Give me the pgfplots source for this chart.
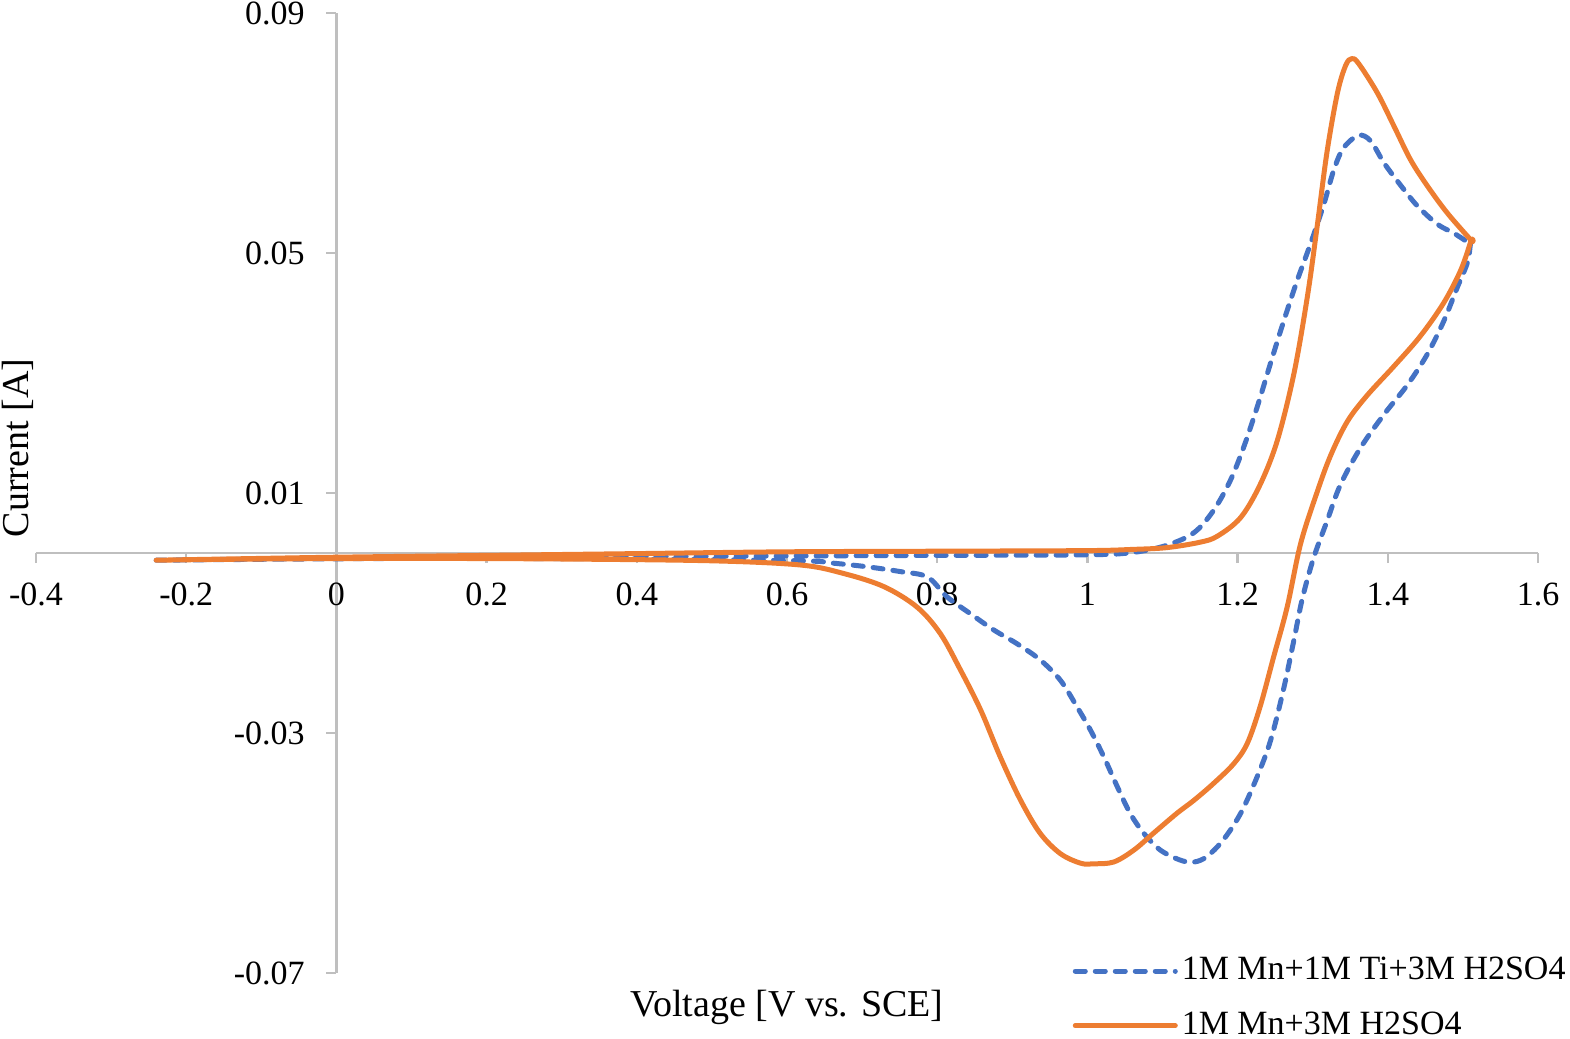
\documentclass[border=0pt]{standalone}
\usepackage{pgfplots}
\pgfplotsset{compat=1.18}
\usepackage{fontspec}
\setmainfont{Liberation Serif}
\definecolor{cblue}{HTML}{4472C4}
\definecolor{corange}{HTML}{ED7D31}
\definecolor{axgray}{HTML}{BFBFBF}
\begin{document}
\fontsize{17}{20}\selectfont
\begin{tikzpicture}
\begin{axis}[
  name=ax,
  scale only axis,
  width=751pt, height=480pt,
  xmin=-0.4, xmax=1.6, ymin=-0.07, ymax=0.09,
  axis lines=middle,
  hide obscured x ticks=false,
  hide obscured y ticks=false,
  axis line style={draw=axgray, line width=1.2pt, -},
  tick style={draw=axgray, line width=1.2pt},
  major tick length=5pt,
  tick align=outside,
  xtick={-0.4,-0.2,0,0.2,0.4,0.6,0.8,1,1.2,1.4,1.6},
  xticklabels={-0.4,-0.2,0,0.2,0.4,0.6,0.8,1,1.2,1.4,1.6},
  ytick={-0.07,-0.03,0.01,0.05,0.09},
  yticklabels={-0.07,-0.03,0.01,0.05,0.09},
  x tick label style={yshift=-4pt},
  y tick label style={xshift=-5pt},
  xlabel={Voltage [V vs. SCE]},
  ylabel={Current [A]},
  label style={font=\fontsize{19}{22}\selectfont},
  xlabel style={at={(axis description cs:0.5,-0.036)}, anchor=center},
  ylabel style={at={(axis description cs:-0.012,0.547)}, anchor=center, rotate=90},
  legend style={at={(axis description cs:0.69,0.021)}, anchor=north west, draw=none, fill=none, inner sep=0pt, row sep=9.5pt},
  legend cell align=left,
  legend image code/.code={\draw[#1, line cap=round] (0pt,0pt) -- (50pt,0pt);},
  clip=false,
]
\addplot[cblue, line width=2.5pt, line cap=round, dash pattern=on 5pt off 5pt, smooth, tension=0.55] coordinates {
(-0.24,-0.0012) (0,-0.0009) (0.4,-0.0006) (0.8,-0.0004) (1.0,-0.0003)
(1.061,0.0001) (1.106,0.0013) (1.142,0.0034) (1.168,0.0071) (1.190,0.0120)
(1.208,0.0176) (1.226,0.0243) (1.244,0.0317) (1.261,0.0385) (1.279,0.0453)
(1.297,0.0515) (1.315,0.0582) (1.328,0.0638) (1.341,0.0675) (1.361,0.0696)
(1.377,0.0687) (1.395,0.0650) (1.417,0.0613) (1.439,0.0579) (1.466,0.0548)
(1.488,0.0533) (1.510,0.0515) (1.510,0.0515) (1.506,0.0484) (1.492,0.0441)
(1.474,0.0385) (1.452,0.0330) (1.426,0.0280) (1.395,0.0231) (1.364,0.0176)
(1.337,0.0114) (1.319,0.0053) (1.301,-0.0009) (1.286,-0.0077) (1.275,-0.0145)
(1.261,-0.0228) (1.244,-0.0312) (1.226,-0.0373) (1.204,-0.0434) (1.181,-0.0478)
(1.159,-0.0506) (1.142,-0.0515) (1.124,-0.0512) (1.097,-0.0495) (1.075,-0.0467)
(1.057,-0.0434) (1.040,-0.0390) (1.022,-0.0340) (1.004,-0.0295) (0.986,-0.0256)
(0.964,-0.0212) (0.937,-0.0178) (0.906,-0.0151) (0.875,-0.0128) (0.844,-0.0101)
(0.813,-0.0073) (0.787,-0.0040) (0.751,-0.0031) (0.707,-0.0023) (0.662,-0.0017)
(0.618,-0.0013) (0.4,-0.0010) (0.1,-0.0009) (-0.24,-0.0012)
};
\addlegendentry{1M Mn+1M Ti+3M H2SO4}
\addplot[corange, line width=2.5pt, line cap=round, line join=round, smooth, tension=0.55] coordinates {
(-0.24,-0.0012) (-0.1,-0.0009) (0,-0.0007) (0.2,-0.0004) (0.4,-0.0001)
(0.6,0.0002) (0.8,0.0003) (1.0,0.0004) (1.06,0.0006) (1.106,0.0009)
(1.15,0.0018) (1.173,0.0028) (1.204,0.0059) (1.230,0.0114) (1.253,0.0188)
(1.275,0.0299) (1.293,0.0428) (1.306,0.0545) (1.319,0.0668) (1.333,0.0767)
(1.344,0.0813) (1.352,0.0824) (1.361,0.0816) (1.386,0.0767) (1.408,0.0712)
(1.430,0.0656) (1.452,0.0613) (1.479,0.0567) (1.511,0.0521) (1.511,0.0521)
(1.497,0.0471) (1.474,0.0416) (1.443,0.0361) (1.408,0.0311) (1.372,0.0262)
(1.346,0.0219) (1.324,0.0163) (1.306,0.0102) (1.284,0.0016) (1.266,-0.0090)
(1.248,-0.0173) (1.230,-0.0256) (1.213,-0.0317) (1.195,-0.0351) (1.168,-0.0384)
(1.142,-0.0412) (1.119,-0.0434) (1.088,-0.0467) (1.062,-0.0495) (1.035,-0.0515)
(1.008,-0.0518) (0.991,-0.0517) (0.964,-0.0501) (0.937,-0.0467) (0.911,-0.0412)
(0.884,-0.0340) (0.858,-0.0262) (0.831,-0.0195) (0.804,-0.0134) (0.773,-0.0090)
(0.729,-0.0056) (0.675,-0.0034) (0.618,-0.0020) (0.5,-0.0013) (0.3,-0.0010)
(0.1,-0.0009) (-0.1,-0.0010) (-0.24,-0.0012)
};
\addlegendentry{1M Mn+3M H2SO4}
\end{axis}
\pgfresetboundingbox
\path ([shift={(-18pt,-32.5pt)}]ax.south west) rectangle ([shift={(16pt,6.5pt)}]ax.north east);
\end{tikzpicture}
\end{document}
